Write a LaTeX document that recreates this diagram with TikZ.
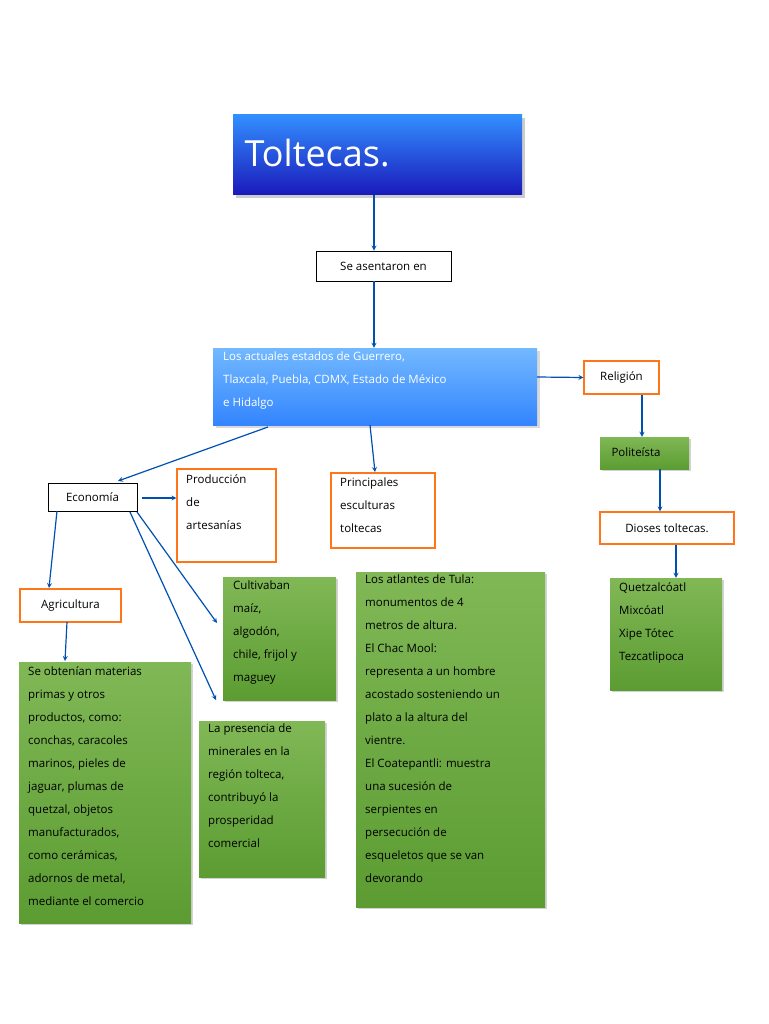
\documentclass[tikz,border=0pt]{standalone}
\usepackage{fontspec}
\setmainfont{Open Sans}
\usetikzlibrary{shadows}
\begin{document}
\begin{tikzpicture}[x=1pt,y=-1pt,
  arr/.style={draw=blue!55!cyan!70!black,line width=1.2pt,-stealth},
  wbox/.style={draw=black,fill=white,line width=0.8pt,inner sep=0},
  obox/.style={draw=orange!80!red!90,fill=white,line width=1.1pt,inner sep=0},
  gbox/.style={top color=green!45!black!55!lime!80,bottom color=green!50!black!80,draw=none,inner sep=0,drop shadow={opacity=0.4,shadow xshift=2pt,shadow yshift=-2pt}},
  txt/.style={font=\fontsize{11.5}{23}\selectfont,align=left,anchor=north west,inner sep=0}]
\useasboundingbox (0,0) rectangle (768,1024);
\definecolor{g1}{RGB}{128,184,86}\definecolor{g2}{RGB}{92,156,50}
\tikzset{gbox/.style={top color=g1,bottom color=g2,draw=none,inner sep=0,drop shadow={opacity=0.35,shadow xshift=2pt,shadow yshift=-2pt}}}
% title
\path[top color=blue!55!cyan!80!white,bottom color=blue!70!black!90,drop shadow={opacity=0.4}] (233,115) rectangle (522,195);
\node[inner sep=0,minimum width=289,minimum height=80] (tit) at (377.5,155) {};
\node[anchor=west,text=white,font=\fontsize{36}{40}\selectfont] at (241,153) {Toltecas.};
\node[wbox,minimum width=135,minimum height=30] (se) at (383.5,266) {};
\node[font=\fontsize{11.5}{14}\selectfont] at (383.5,266) {Se asentaron en};
\path[top color=cyan!50!blue!55,bottom color=blue!60!cyan!80,drop shadow={opacity=0.3}] (213,348) rectangle (537,425);
\node[inner sep=0,minimum width=324,minimum height=77] (est) at (375,386.5) {};
\node[txt,text=white] at (223,352) {Los actuales estados de Guerrero,\\Tlaxcala, Puebla, CDMX, Estado de México\\e Hidalgo};
\node[obox,minimum width=75,minimum height=33] (rel) at (621.5,377.5) {};
\node[font=\fontsize{11.5}{14}\selectfont] at (621.5,377.5) {Religión};
\node[gbox,minimum width=89,minimum height=32] (pol) at (644.5,453) {};
\node[font=\fontsize{11.5}{14}\selectfont,anchor=west] at (608,452) {Politeísta};
\node[obox,minimum width=134,minimum height=32] (dio) at (667,528) {};
\node[font=\fontsize{11.5}{14}\selectfont] at (667,528) {Dioses toltecas.};
\node[gbox,minimum width=112,minimum height=112] (que) at (666,634) {};
\node[txt] at (619,582) {Quetzalcóatl\\Mixcóatl\\Xipe Tótec\\Tezcatlipoca};
\node[wbox,minimum width=89,minimum height=28] (eco) at (92.5,497) {};
\node[font=\fontsize{11.5}{14}\selectfont] at (92.5,497) {Economía};
\node[obox,minimum width=99,minimum height=93] (pro) at (226.5,515.5) {};
\node[txt] at (186,474) {Producción\\de\\artesanías};
\node[obox,minimum width=104,minimum height=75] (esc) at (383,510.5) {};
\node[txt] at (340,478) {Principales\\esculturas\\toltecas};
\node[obox,minimum width=101,minimum height=33] (agr) at (70.5,605.5) {};
\node[font=\fontsize{11.5}{14}\selectfont] at (70.5,605.5) {Agricultura};
\node[gbox,minimum width=113,minimum height=123] (cul) at (279.5,638.5) {};
\node[txt] at (233,581) {Cultivaban\\maíz,\\algodón,\\chile, frijol y\\maguey};
\node[gbox,minimum width=189,minimum height=335] (atl) at (450.5,739.5) {};
\node[txt] at (365,575) {Los atlantes de Tula:\\monumentos de 4\\metros de altura.\\El Chac Mool:\\representa a un hombre\\acostado sosteniendo un\\plato a la altura del\\vientre.\\El Coatepantli: muestra\\una sucesión de\\serpientes en\\persecución de\\esqueletos que se van\\devorando};
\node[gbox,minimum width=172,minimum height=261] (obt) at (105,792.5) {};
\node[txt] at (28,666) {Se obtenían materias\\primas y otros\\productos, como:\\conchas, caracoles\\marinos, pieles de\\jaguar, plumas de\\quetzal, objetos\\manufacturados,\\como cerámicas,\\adornos de metal,\\mediante el comercio};
\node[gbox,minimum width=126,minimum height=156] (pre) at (262,799) {};
\node[txt] at (208,724) {La presencia de\\minerales en la\\región tolteca,\\contribuyó la\\prosperidad\\comercial};
% arrows
\draw[arr] (tit.south -| 374,0) -- (se.north -| 374,0);
\draw[arr] (se.south -| 374,0) -- (est.north -| 374,0);
\draw[arr] (est.east |- 0,377) -- (rel.west);
\draw[arr] (rel.south -| 642,0) -- (pol.north -| 642,0);
\draw[arr] (pol.south -| 660,0) -- (dio.north -| 660,0);
\draw[arr] (dio.south -| 676,0) -- (que.north -| 676,0);
\draw[arr] (268,427) -- (118,481);
\draw[arr] (370,425) -- (375,472);
\draw[arr] (142,498) -- (pro.west |- 0,498);
\draw[arr] (57,511) -- (49,588);
\draw[arr] (137,512) -- (217,623);
\draw[arr] (130,512) -- (216,700);
\draw[arr] (67,622) -- (65,661);
\end{tikzpicture}
\end{document}
